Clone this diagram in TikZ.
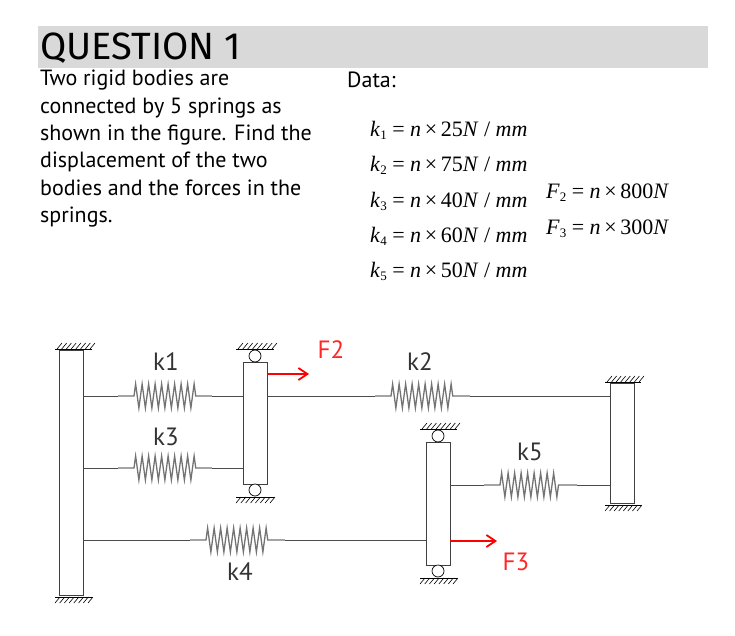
\documentclass[tikz,border=0pt]{standalone}
\usepackage{fontspec}
\setmainfont{PT Sans}
\newfontfamily\ttl{Fira Sans}
\newfontfamily\eqf{Liberation Serif}
\usetikzlibrary{decorations.pathmorphing,arrows.meta}
\newcommand{\sbx}[1]{\raisebox{-0.3ex}{\fontsize{13}{13}\selectfont #1}}
\begin{document}
\begin{tikzpicture}[x=1pt,y=-1pt,
  wall/.style={draw=black!75,fill=white,line width=0.8pt},
  wire/.style={draw=black!70,line width=0.7pt},
  spr/.style={draw=black!55,line width=1.3pt,decorate,decoration={zigzag,segment length=6.5pt,amplitude=12pt,pre length=16pt,post length=16pt}},
  force/.style={draw=red,line width=1.8pt,-{Straight Barb[length=9pt,width=12pt]}},
  lab/.style={font=\fontsize{25}{25}\selectfont, text=black!80, inner sep=0},
  flab/.style={font=\fontsize{25}{25}\selectfont, text=red!85, inner sep=0},
  eq/.style={font=\eqf\fontsize{22}{22}\selectfont, anchor=west, inner sep=0},
  roll/.style={draw=black,line width=0.7pt,fill=white}]
\useasboundingbox (0,0) rectangle (735,636);
\newcommand{\hatchT}[3]{\draw[line width=0.6pt] (#1,#3)--(#2,#3);
  \foreach \xx in {0,...,7}{\pgfmathsetmacro\hx{#1+2+\xx*((#2)-(#1)-4)/7}\draw[line width=0.6pt] (\hx,#3)--++(5,-6);}}
\newcommand{\hatchB}[3]{\draw[line width=0.6pt] (#1,#3)--(#2,#3);
  \foreach \xx in {0,...,7}{\pgfmathsetmacro\hx{#1+\xx*((#2)-(#1)-4)/7}\draw[line width=0.6pt] (\hx,#3+6)--++(5,-6);}}
% header
\fill[black!15] (38,26) rectangle (708,68);
\node[anchor=base west,inner sep=0,font=\ttl\fontsize{38}{38}\selectfont] (title) at (40,60) {QUESTION 1};
\node[anchor=north west,inner sep=0,align=left,font=\fontsize{22}{27.4}\selectfont] (para) at (40,70)
 {Two rigid bodies are\\connected by 5 springs as\\shown in the figure. Find the\\displacement of the two\\bodies and the forces in the\\springs.};
\node[anchor=north west,inner sep=0,font=\fontsize{22}{24}\selectfont] (data) at (347,72) {Data:};
\node[eq] (e1) at (370,130) {\textit{k}\sbx{1} = \textit{n}\,×\,25\textit{N} / \textit{mm}};
\node[eq] (e2) at (370,165) {\textit{k}\sbx{2} = \textit{n}\,×\,75\textit{N} / \textit{mm}};
\node[eq] (e3) at (370,201) {\textit{k}\sbx{3} = \textit{n}\,×\,40\textit{N} / \textit{mm}};
\node[eq] (e4) at (370,236) {\textit{k}\sbx{4} = \textit{n}\,×\,60\textit{N} / \textit{mm}};
\node[eq] (e5) at (370,271) {\textit{k}\sbx{5} = \textit{n}\,×\,50\textit{N} / \textit{mm}};
\node[eq] (f2) at (546,193) {\textit{F}\sbx{2} = \textit{n}\,×\,800\textit{N}};
\node[eq] (f3) at (546,229) {\textit{F}\sbx{3} = \textit{n}\,×\,300\textit{N}};
% walls and bodies
\draw[wall] (59,350) rectangle (83,595);
\hatchT{55}{92}{349}\hatchB{55}{92}{597}
\draw[wall] (610,383) rectangle (634,503);
\hatchT{605}{641}{382}\hatchB{605}{641}{505}
\draw[wall] (243,362) rectangle (267,484);
\draw[roll] (255,356) circle (6);\draw[roll] (255,490) circle (6);
\hatchT{236}{274}{349}\hatchB{236}{274}{497}
\draw[wall] (426,442) rectangle (450,565);
\draw[roll] (438,436) circle (6);\draw[roll] (438,571) circle (6);
\hatchT{420}{457}{429}\hatchB{420}{457}{578}
% coordinates
\coordinate (a1) at (83,396);\coordinate (s1a) at (118,396);\coordinate (s1b) at (212,396);\coordinate (b1) at (243,396);
\coordinate (a3) at (83,468);\coordinate (s3a) at (118,468);\coordinate (s3b) at (212,468);\coordinate (b3) at (243,468);
\coordinate (a2) at (267,396);\coordinate (s2a) at (375,396);\coordinate (s2b) at (470,396);\coordinate (b2) at (610,396);
\coordinate (a5) at (450,485);\coordinate (s5a) at (484,485);\coordinate (s5b) at (577,485);\coordinate (b5) at (610,485);
\coordinate (a4) at (83,540);\coordinate (s4a) at (190,540);\coordinate (s4b) at (285,540);\coordinate (b4) at (426,540);
\foreach \n in {1,2,3,4,5}{\draw[wire] (a\n)--(s\n a) (s\n b)--(b\n); \draw[spr] (s\n a)--(s\n b);}
% forces
\coordinate (p2) at (267,374);\coordinate (q2) at (309,374);
\draw[force] (p2)--(q2);
\coordinate (p3) at (450,541);\coordinate (q3) at (497,541);
\draw[force] (p3)--(q3);
% labels
\node[lab] (k1) at (166,362) {k1};
\node[lab] (k3) at (166,437) {k3};
\node[lab] (k2) at (420,362) {k2};
\node[lab] (k5) at (530,452) {k5};
\node[lab] (k4) at (240,572) {k4};
\node[flab] (F2) at (331,350) {F2};
\node[flab] (F3) at (516,562) {F3};
\end{tikzpicture}
\end{document}
